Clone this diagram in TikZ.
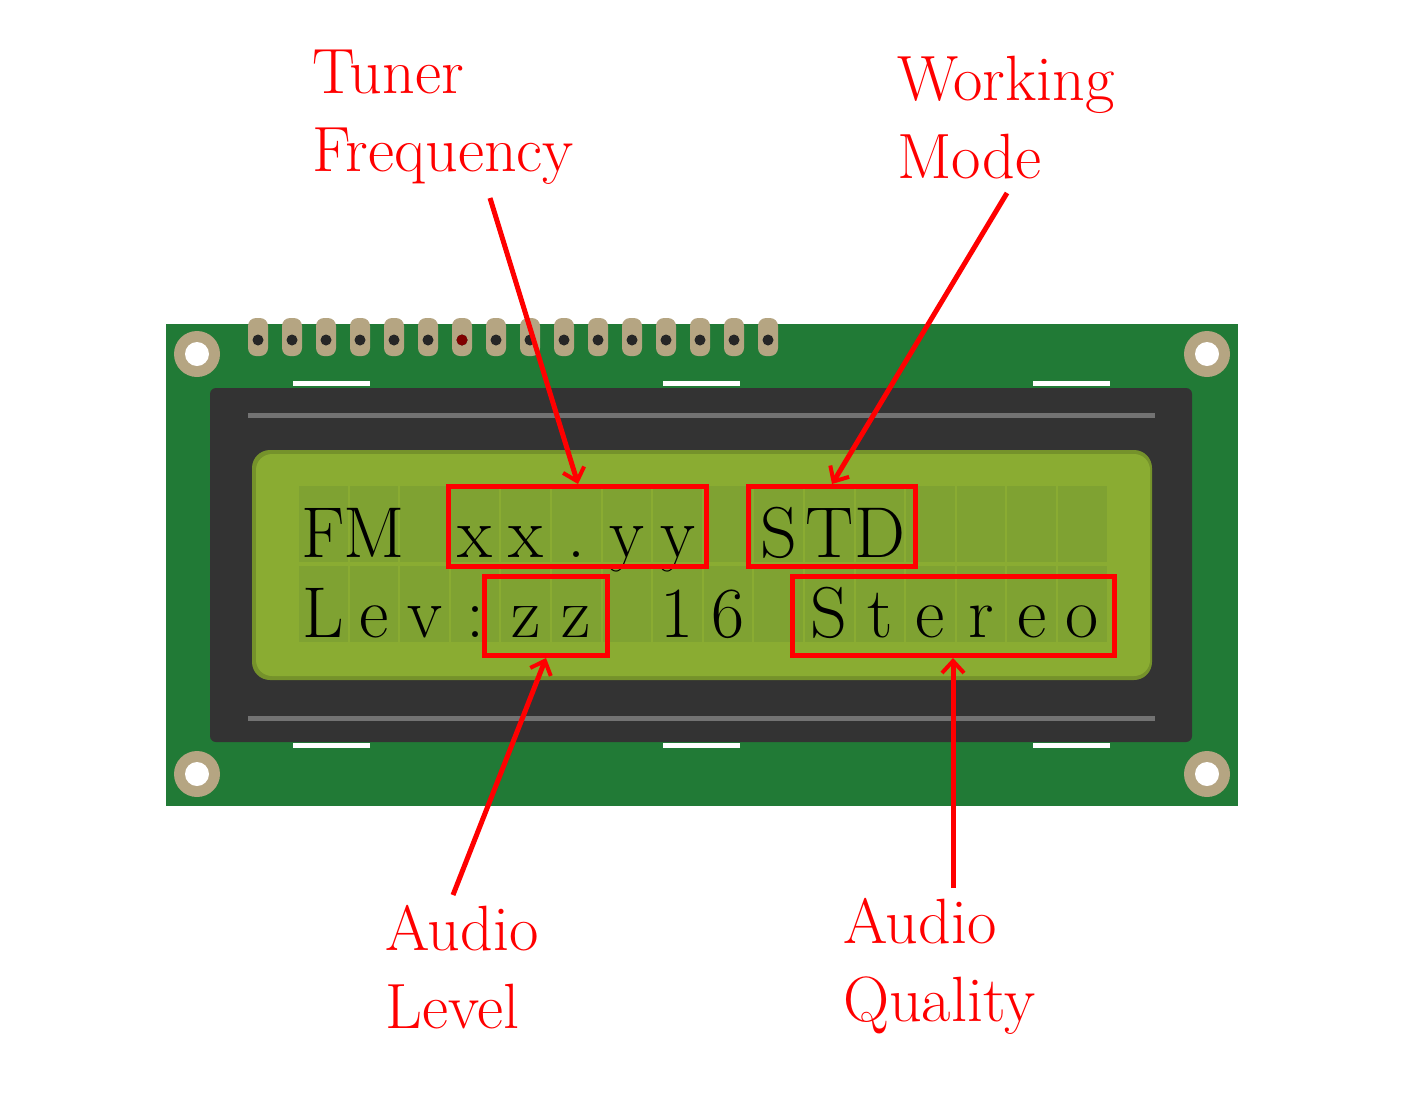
\documentclass[tikz,border=0pt]{standalone}
\usetikzlibrary{arrows.meta}
\definecolor{pcb}{HTML}{217A36}
\definecolor{pad}{HTML}{B5A582}
\definecolor{bezel}{HTML}{333333}
\definecolor{lcd}{HTML}{8AAC32}
\definecolor{cell}{HTML}{7FA232}
\definecolor{lred}{HTML}{FF0000}
\tikzset{
  lbl/.style={text=lred,font=\fontsize{64}{78}\selectfont,align=left,inner sep=0pt},
  hl/.style={draw=lred,line width=5pt,inner sep=0pt},
  ptr/.style={draw=lred,line width=5pt,-{Straight Barb[length=12pt,width=22pt,line width=4pt]}},
  ch/.style={font=\fontsize{72}{72}\selectfont,anchor=base,inner sep=0pt}
}
\begin{document}
\begin{tikzpicture}[x=1pt,y=-1pt]
\useasboundingbox (0,0) rectangle (1410,1098);
% board
\fill[pcb] (166,324) rectangle (1238,806);
\foreach \x/\y in {197/354,1207/354,197/774,1207/774}{
  \fill[pad] (\x,\y) circle (23);
  \fill[white] (\x,\y) circle (12);
}
\foreach \i in {0,...,15}{
  \pgfmathsetmacro\px{258+\i*34}
  \fill[pad,rounded corners=8] (\px-10,318) rectangle (\px+10,356);
  \fill[black!85] (\px,340) circle (5.5);
}
\fill[red!50!black] (462,340) circle (5.5);
\foreach \x in {293,663,1033}{
  \fill[white] (\x,381) rectangle (\x+77,386);
  \fill[white] (\x,743) rectangle (\x+77,748);
}
% bezel
\fill[bezel,rounded corners=6] (210,388) rectangle (1192,742);
\fill[black!80,rounded corners=4] (245,406) rectangle (1158,420);
\fill[black!55] (248,413) rectangle (1155,418);
\fill[black!80,rounded corners=4] (245,709) rectangle (1158,723);
\fill[black!55] (248,716) rectangle (1155,721);
% lcd
\fill[lcd!85!black,rounded corners=18] (252,450) rectangle (1152,680);
\fill[lcd,rounded corners=16] (256,454) rectangle (1150,676);
\foreach \r in {0,1}{
  \foreach \c in {0,...,15}{
    \pgfmathsetmacro\cx{298+\c*50.6}
    \pgfmathsetmacro\cy{486+\r*80}
    \fill[cell] (\cx+1,\cy) rectangle (\cx+49.6,\cy+76);
  }
}
\foreach \c/\t in {0/F,1/M,3/x,4/x,5/.,6/y,7/y,9/S,10/T,11/D}{
  \node[ch] at (298+\c*50.6+25.3,557) {\t};
}
\foreach \c/\t in {0/L,1/e,2/v,3/:,4/z,5/z,6//,7/1,8/6,10/S,11/t,12/e,13/r,14/e,15/o}{
  \node[ch] at (298+\c*50.6+25.3,637) {\t};
}
% highlight boxes
\node[hl,minimum width=258pt,minimum height=80pt] (bfreq) at (577.5,526.5) {};
\node[hl,minimum width=167pt,minimum height=80pt] (bmode) at (832,526.5) {};
\node[hl,minimum width=123pt,minimum height=79pt] (blev) at (546,616) {};
\node[hl,minimum width=322pt,minimum height=79pt] (bqual) at (953,616) {};
% labels
\node[lbl,anchor=north west] (tuner) at (312,50) {Tuner\\Frequency};
\node[lbl,anchor=north west] (mode) at (897,56) {Working\\Mode};
\node[lbl,anchor=north west] (level) at (385,905) {Audio\\Level};
\node[lbl,anchor=north west] (qual) at (843,898) {Audio\\Quality};
\coordinate (t1) at (490,198);
\coordinate (m1) at (1007,193);
\coordinate (l1) at (453,895);
\coordinate (q1) at (953,888);
\draw[ptr] (t1) -- (bfreq.north -| 578,0);
\draw[ptr] (m1) -- (bmode.north);
\draw[ptr] (l1) -- (blev.south);
\draw[ptr] (q1) -- (bqual.south);
\end{tikzpicture}
\end{document}
